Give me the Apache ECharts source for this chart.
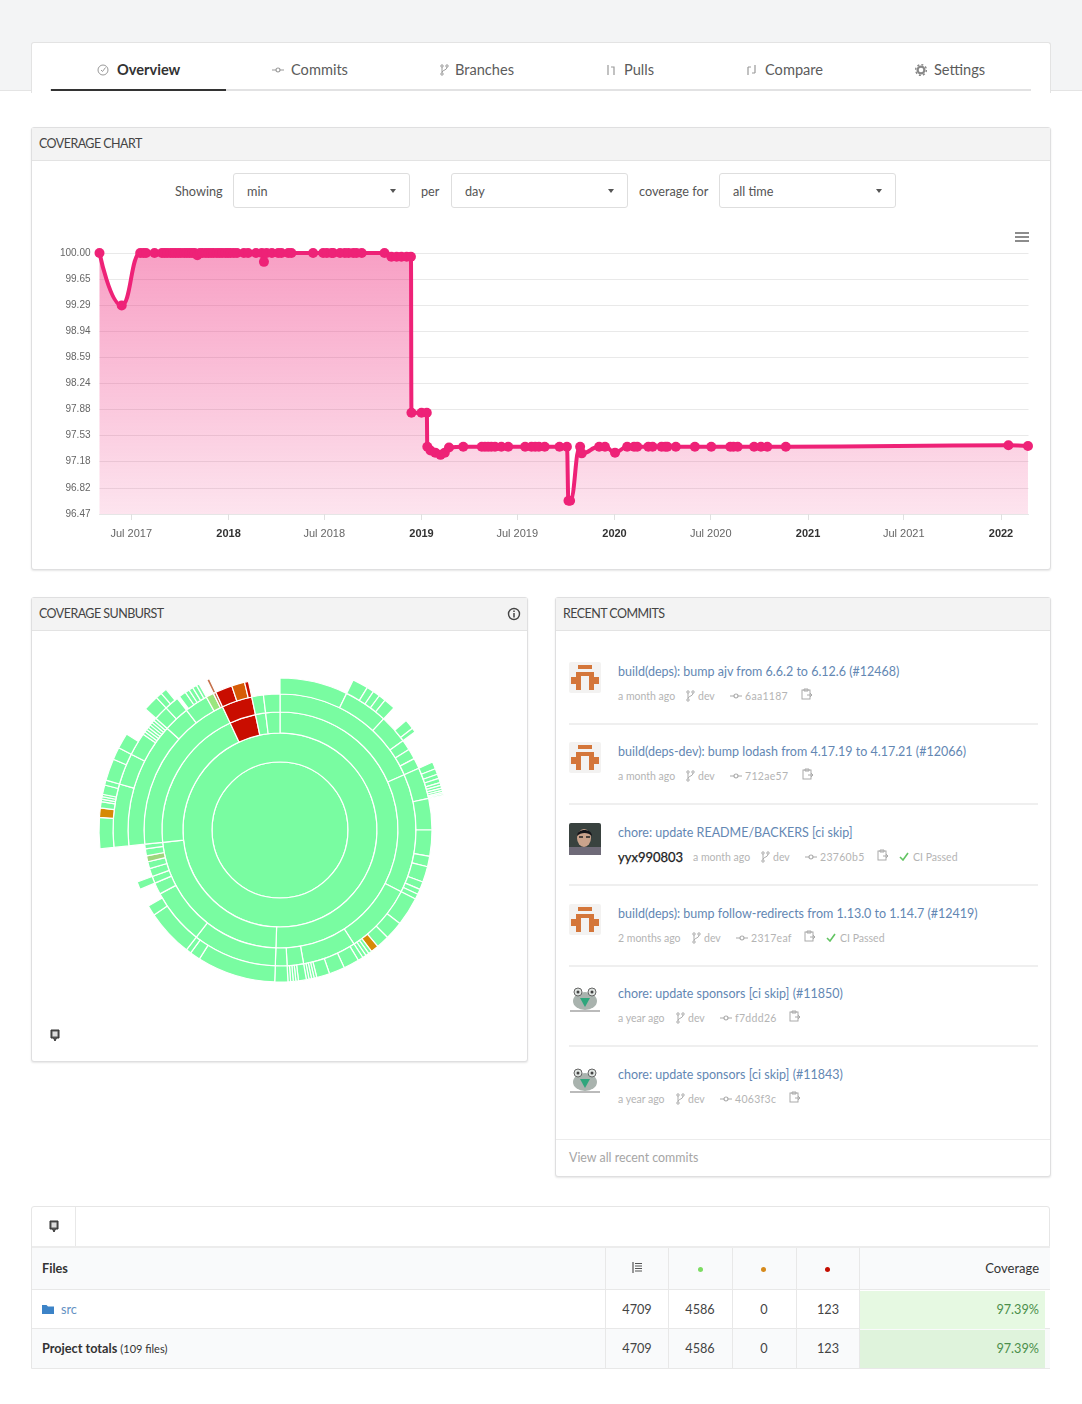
<!DOCTYPE html>
<html>
<head>
<meta charset="utf-8">
<title>Coverage overview</title>
<script src="https://cdn.jsdelivr.net/npm/echarts@6/dist/echarts.min.js"></script>
<style>
  html, body { margin: 0; padding: 0; background: #fff; }
  #page { position: relative; width: 1082px; height: 1404px; overflow: hidden; font-family: Lato, sans-serif; color: #444; }
  #page div { position: absolute; white-space: nowrap; }
  .top { left: 0; top: 0; width: 1082px; height: 91px; background: #f3f4f5; border-bottom: 1px solid #e4e4e4; box-sizing: border-box; }
  .tabs { left: 31px; top: 42px; width: 1018px; height: 50px; background: #fff; border: 1px solid #e3e3e3; border-bottom: 0; border-radius: 3px 3px 0 0; }
  .tabline { left: 50px; top: 89px; width: 981px; height: 2px; background: #e2e2e3; }
  .tabactive { left: 51px; top: 89px; width: 175px; height: 2px; background: #333; }
  .tab { top: 61px; font-size: 14.6px; line-height: 18px; color: #5c5c5c; }
  .card { background: #fff; border: 1px solid #dfdfe0; border-radius: 3px; box-shadow: 0 1px 2px rgba(0,0,0,.1); box-sizing: border-box; }
  .head { background: #f3f3f3; border-bottom: 1px solid #e3e3e3; box-sizing: border-box; height: 33px; font-size: 12.5px; line-height: 32px; padding-left: 7px; color: #444; letter-spacing: -.55px; }
  .lbl { top: 183px; font-size: 12.7px; line-height: 16px; color: #555; }
  .sel { top: 173px; width: 177px; height: 35px; background: #fff; border: 1px solid #dedede; border-radius: 3px; box-sizing: border-box; font-size: 12.7px; line-height: 34px; padding-left: 13px; color: #555; }
  .caret { top: 189px; width: 0; height: 0; border-left: 3.5px solid transparent; border-right: 3.5px solid transparent; border-top: 4px solid #555; }
  .burger { left: 1015px; width: 14px; height: 2px; background: #8c8c8c; }
  .title { font-size: 12.5px; line-height: 16px; color: #6387b3; }
  .meta { font-size: 10.5px; line-height: 14px; color: #b4b4b4; }
  .author { font-size: 13px; line-height: 16px; color: #222; -webkit-text-stroke: .25px #222; }
  .rule { left: 569px; width: 469px; height: 2px; background: #efefef; }
  .cell { font-size: 12.7px; line-height: 16px; color: #444; }
  .row { left: 32px; width: 1018px; box-sizing: border-box; border-bottom: 1px solid #e8e8e8; }
  .vline { width: 1px; top: 1248px; height: 120px; background: #e8e8e8; }
  .dot { width: 5px; height: 5px; border-radius: 50%; top: 1267px; }
  #trend { left: 32px; top: 210px; width: 1018px; height: 358px; }
  #burst { left: 32px; top: 632px; width: 495px; height: 429px; }
</style>
</head>
<body>
<div id="page"></div>
<script>
// coverage history
const coverageDates = [
  '2017-05-02', '2017-06-13', '2017-07-18', '2017-07-24', '2017-07-29', '2017-08-14', '2017-08-28', '2017-09-02',
  '2017-09-07', '2017-09-13', '2017-09-18', '2017-09-23', '2017-09-28', '2017-10-03', '2017-10-09', '2017-10-14',
  '2017-10-19', '2017-10-24', '2017-10-29', '2017-11-03', '2017-11-08', '2017-11-13', '2017-11-19', '2017-11-24',
  '2017-11-29', '2017-12-04', '2017-12-10', '2017-12-15', '2017-12-20', '2017-12-26', '2017-12-31', '2018-01-05',
  '2018-01-11', '2018-01-17', '2018-01-30', '2018-02-07', '2018-02-22', '2018-03-05', '2018-03-09', '2018-03-14',
  '2018-03-24', '2018-04-05', '2018-04-11', '2018-04-24', '2018-04-30', '2018-06-10', '2018-06-29', '2018-07-06',
  '2018-07-15', '2018-07-18', '2018-07-31', '2018-08-09', '2018-08-16', '2018-08-25', '2018-08-31', '2018-09-10',
  '2018-10-23', '2018-11-05', '2018-11-15', '2018-11-24', '2018-12-04', '2018-12-12', '2018-12-13', '2019-01-01',
  '2019-01-11', '2019-01-12', '2019-01-18', '2019-01-27', '2019-02-06', '2019-02-14', '2019-02-22', '2019-03-21',
  '2019-04-25', '2019-05-01', '2019-05-07', '2019-05-13', '2019-05-20', '2019-06-01', '2019-06-14', '2019-07-16',
  '2019-07-28', '2019-08-04', '2019-08-11', '2019-08-22', '2019-09-19', '2019-10-03', '2019-10-06', '2019-10-09',
  '2019-10-28', '2019-10-31', '2019-12-03', '2019-12-14', '2020-01-02', '2020-01-25', '2020-02-07', '2020-02-13',
  '2020-03-05', '2020-03-13', '2020-03-30', '2020-04-06', '2020-04-10', '2020-04-26', '2020-06-01', '2020-07-02',
  '2020-08-07', '2020-08-13', '2020-08-21', '2020-09-21', '2020-10-04', '2020-10-16', '2020-11-20', '2022-01-15',
  '2022-02-21'
];
const coverageValues = [
  100, 99.29, 100, 100, 100, 100, 100, 100,
  100, 100, 100, 100, 100, 100, 100, 100,
  100, 100, 100, 99.97, 100, 100, 100, 100,
  100, 100, 100, 100, 100, 100, 100, 100,
  100, 100, 100, 100, 100, 100, 99.88, 100,
  100, 100, 100, 100, 100, 100, 100, 100,
  100, 100, 100, 100, 100, 100, 100, 100,
  100, 99.95, 99.95, 99.95, 99.95, 99.95, 97.84, 97.84,
  97.84, 97.38, 97.33, 97.3, 97.27, 97.3, 97.37, 97.38,
  97.38, 97.38, 97.38, 97.38, 97.38, 97.38, 97.38, 97.38,
  97.38, 97.38, 97.38, 97.38, 97.38, 97.38, 96.65, 96.65,
  97.38, 97.29, 97.38, 97.38, 97.3, 97.38, 97.38, 97.38,
  97.38, 97.38, 97.38, 97.38, 97.38, 97.38, 97.38, 97.38,
  97.38, 97.38, 97.38, 97.38, 97.38, 97.38, 97.38, 97.4,
  97.39
];
const yTicks = [96.47, 96.82, 97.18, 97.53, 97.88, 98.24, 98.59, 98.94, 99.29, 99.65, 100];
const xTickDates = ['2017-07-01', '2018-01-01', '2018-07-01', '2019-01-01', '2019-07-01', '2020-01-01', '2020-07-01', '2021-01-01', '2021-07-01', '2022-01-01'];
const xTickLabels = ['Jul 2017', '2018', 'Jul 2018', '2019', 'Jul 2019', '2020', 'Jul 2020', '2021', 'Jul 2021', '2022'];

// sunburst rings, inside out, spans in degrees clockwise from 12 o'clock
// a plain number is a fully covered slice, a pair names any other status
const ringRadii = [68, 97, 118, 136, 152, 167, 181];
const ring1 = [360];
const ring2 = [360];
const ring3 = [182, 82, 71, ['red', 13], 5, 7];
const ring4 = [66, 51, 30, 23, 7, 5, 36, 24, 5, 3, 3.5, 3, ['olive', 2.5], 3, 2, 71, ['red', 13], 5, 7];
const ring5 = [
  26, 17, 11, 4, 4, 4,
  12, 12, 10, 4, 6, 3, 2, 2,
  11, 7, 5, ['amber', 3], 1.3, 1.3, 1.4,
  2, 6, 6, 5, 1, 1, 1, 1,
  3, 1, 1, 1, 1, 5,
  30, 4, 2,
  18, 4, ['gap', 7], 3, ['gap', 14],
  48, 10, 9, ['pale', 3], ['rust', 1],
  ['red', 6.5], ['orange', 5], ['red', 1.5]
];
const ring6 = [
  ['gap', 26], 5.5, 2.5, 2.5, 2.5, 4, ['gap', 6], 3.5, 1.5, ['gap', 12],
  2.5, 2, 1.5, 1.5, 1, 1, .8, .7, .5, .5, ['gap', 186],
  22, 11, 8, 1, 1, 1, 1, 1, 1, 1,
  5, 5, ['gap', 1], 2.5, 1.5, 1.5, 1.5, 1, ['gap', 3], ['rust', 1]
];
const ring7 = [['gap', 264], 10, ['amber', 3], 2, .8, .8, .8, 3, 1.6, 7, 4, 5, ['gap', 10], 5, 2, 2];
const statusColors = { hit: '#79fca1', red: '#c90d00', orange: '#d65c06', amber: '#d68a06', olive: '#9ed67c', pale: '#9be67f', rust: '#c4704a' };

// table and commit list
const tableHeads = ['Files', 'Coverage'];
const tableRows = [['src', 4709, 4586, 0, 123, '97.39%'], ['Project totals', 4709, 4586, 0, 123, '97.39%']];
const commitTitles = [
  'build(deps): bump ajv from 6.6.2 to 6.12.6 (#12468)',
  'build(deps-dev): bump lodash from 4.17.19 to 4.17.21 (#12066)',
  'chore: update README/BACKERS [ci skip]',
  'build(deps): bump follow-redirects from 1.13.0 to 1.14.7 (#12419)',
  'chore: update sponsors [ci skip] (#11850)',
  'chore: update sponsors [ci skip] (#11843)'
];
const commitAges = ['a month ago', 'a month ago', 'a month ago', '2 months ago', 'a year ago', 'a year ago'];
const commitHashes = ['6aa1187', '712ae57', '23760b5', '2317eaf', 'f7ddd26', '4063f3c'];
const commitAvatars = ['bot', 'bot', 'person', 'bot', 'frog', 'frog'];
const commitCi = [false, false, true, true, false, false];

const page = document.getElementById('page');
let html = '';
function box(cls, style, inner) {
  html += '<div class="' + cls + '" style="' + style + '">' + (inner === undefined ? '' : inner) + '</div>';
}
function svg(x, y, w, h, body) {
  html += '<svg style="position:absolute;left:' + x + 'px;top:' + y + 'px" width="' + w + '" height="' + h + '" viewBox="0 0 ' + w + ' ' + h + '">' + body + '</svg>';
}
function branchIcon(x, y, c) {
  svg(x, y, 9, 12, '<g fill="none" stroke="' + c + '" stroke-width="1"><circle cx="2" cy="2" r="1.2"/><circle cx="7" cy="2" r="1.2"/><circle cx="2" cy="10" r="1.2"/><path d="M2 3.2V8.8M7 3.2C7 6 3 6 2 8"/></g>');
}
function commitIcon(x, y, c) {
  svg(x, y, 12, 8, '<g fill="none" stroke="' + c + '" stroke-width="1.2"><circle cx="6" cy="4" r="2"/><path d="M0 4H4M8 4H12"/></g>');
}
function clipIcon(x, y) {
  svg(x, y, 12, 12, '<g fill="none" stroke="#aaa" stroke-width="1"><rect x="1" y="2" width="8" height="9"/><path d="M3 1H7V3H3ZM6 7H11M9 5L11 7L9 9"/></g>');
}
function deviceIcon(x, y) {
  svg(x, y, 10, 13, '<path d="M1 1H9V9H6.5L5 12L3.5 9H1Z" fill="#555" stroke="#333"/><rect x="2.5" y="2.5" width="5" height="5" fill="#ddd"/>');
}
function avatar(x, y, kind) {
  let body = '';
  if (kind === 'bot') {
    body = '<rect width="32" height="31" rx="2" fill="#f3f2f1"/><g fill="#d4763a"><rect x="9" y="3" width="14" height="4"/><path d="M2 15H7V10H25V15H30V22H25V28H20V14H12V28H7V22H2Z"/></g>';
  } else if (kind === 'person') {
    body = '<rect width="32" height="32" rx="2" fill="#39423f"/><rect y="24" width="32" height="8" fill="#6f6a78"/><ellipse cx="15" cy="15" rx="7" ry="9" fill="#caa38c"/><path d="M8 13C8 5 23 5 23 13C19 9 12 9 8 13Z" fill="#15151a"/><path d="M10 14H14M17 14H21" stroke="#222" stroke-width="1.5"/>';
  } else {
    body = '<rect width="32" height="32" fill="#fff"/><ellipse cx="16" cy="17" rx="12" ry="9" fill="#a9b3ae"/><circle cx="9" cy="8" r="4" fill="#dfe4e1" stroke="#666"/><circle cx="23" cy="8" r="4" fill="#dfe4e1" stroke="#666"/><circle cx="9" cy="8" r="1.5" fill="#444"/><circle cx="23" cy="8" r="1.5" fill="#444"/><path d="M11 14H21L16 23Z" fill="#2ea67c"/><path d="M1 27H31" stroke="#bbb" stroke-width="2"/>';
  }
  svg(x, y, 32, 32, body);
}

// page chrome
box('top', '');
box('tabs', '');
box('tabline', '');
box('tabactive', '');
const tabNames = ['Overview', 'Commits', 'Branches', 'Pulls', 'Compare', 'Settings'];
const tabLeft = [117, 291, 455, 624, 765, 934];
tabNames.forEach((name, i) => {
  box('tab', 'left:' + tabLeft[i] + 'px;' + (i === 0 ? 'font-weight:700;color:#333;' : ''), name);
});
svg(97, 64, 12, 12, '<g fill="none" stroke="#999" stroke-width="1"><circle cx="6" cy="6" r="5"/><path d="M4 6L5.5 7.5L8.5 3.5"/></g>');
commitIcon(272, 66, '#999');
branchIcon(440, 64, '#999');
svg(606, 64, 11, 12, '<g fill="none" stroke="#999" stroke-width="1.2"><path d="M2 1V11M8 11V3H5"/></g>');
svg(746, 64, 12, 12, '<g fill="none" stroke="#999" stroke-width="1.2"><path d="M2 3V11M9 1V9M2 3H5M9 9H6"/></g>');
svg(915, 64, 12, 12, '<circle cx="6" cy="6" r="3.4" fill="none" stroke="#888" stroke-width="2.2"/><circle cx="6" cy="6" r="5.4" fill="none" stroke="#888" stroke-width="1.4" stroke-dasharray="2 2.2"/>');

// coverage chart card
box('card', 'left:31px;top:127px;width:1020px;height:443px;');
box('head', 'left:32px;top:128px;width:1018px;', 'COVERAGE CHART');
box('lbl', 'left:175px;', 'Showing');
box('sel', 'left:233px;', 'min');
box('caret', 'left:390px;');
box('lbl', 'left:421px;', 'per');
box('sel', 'left:451px;', 'day');
box('caret', 'left:608px;');
box('lbl', 'left:639px;', 'coverage for');
box('sel', 'left:719px;', 'all time');
box('caret', 'left:876px;');

// sunburst card
box('card', 'left:31px;top:597px;width:497px;height:465px;');
box('head', 'left:32px;top:598px;width:495px;', 'COVERAGE SUNBURST');
svg(507, 607, 14, 14, '<circle cx="7" cy="7" r="5.5" fill="none" stroke="#444" stroke-width="1.4"/><path d="M7 6V10.5M7 3.5V5" stroke="#444" stroke-width="1.5"/>');

// recent commits card
box('card', 'left:555px;top:597px;width:496px;height:580px;');
box('head', 'left:556px;top:598px;width:494px;', 'RECENT COMMITS');
const rowTops = [671, 751, 832, 913, 993, 1074];
const authors = { 2: 'yyx990803' };
const clipLeft = [801, 802, 877, 804, 789, 789];
const ciLeft = { 2: 899, 3: 826 };
rowTops.forEach((y, i) => {
  avatar(569, y - 9, commitAvatars[i]);
  box('title', 'left:618px;top:' + (y - 7) + 'px;', commitTitles[i]);
  let x = 618;
  const my = y + 18;
  if (authors[i]) {
    box('author', 'left:618px;top:' + (y + 17) + 'px;', authors[i]);
    x = 693;
  }
  const ageWidth = { 'a month ago': 58, '2 months ago': 64, 'a year ago': 48 }[commitAges[i]];
  box('meta', 'left:' + x + 'px;top:' + my + 'px;', commitAges[i]);
  x += ageWidth + 10;
  branchIcon(x, my + 1, '#aaa');
  box('meta', 'left:' + (x + 12) + 'px;top:' + my + 'px;', 'dev');
  x += 49;
  commitIcon(x - 5, my + 3, '#aaa');
  box('meta', 'left:' + (x + 10) + 'px;top:' + my + 'px;letter-spacing:.3px;', commitHashes[i]);
  clipIcon(clipLeft[i], my - 1);
  if (commitCi[i]) {
    svg(ciLeft[i], my + 2, 10, 9, '<path d="M1 5L4 8L9 1" fill="none" stroke="#62c462" stroke-width="1.6"/>');
    box('meta', 'left:' + (ciLeft[i] + 14) + 'px;top:' + my + 'px;', 'CI Passed');
  }
  if (i < 5) box('rule', 'top:' + (y + 52) + 'px;');
});
box('', 'left:556px;top:1139px;width:494px;height:1px;background:#ececec;');
box('cell', 'left:569px;top:1150px;color:#a5a5a5;font-size:12.4px;', 'View all recent commits');

// file table
box('', 'left:31px;top:1206px;width:1019px;height:163px;border:1px solid #e6e6e6;border-radius:3px 3px 0 0;box-sizing:border-box;');
box('', 'left:75px;top:1207px;width:1px;height:40px;background:#e8e8e8;');
box('row', 'top:1246px;height:2px;background:#ececec;border:0;');
box('row', 'top:1248px;height:42px;background:#f9fafb;');
box('row', 'top:1290px;height:39px;background:#fff;');
box('row', 'top:1329px;height:40px;background:#f9fafb;');
box('', 'left:859px;top:1291px;width:186px;height:38px;background:#e6f9e2;');
box('', 'left:859px;top:1330px;width:186px;height:38px;background:#dff3dc;');
[605, 668, 732, 796, 859].forEach(x => box('vline', 'left:' + x + 'px;'));
box('cell', 'left:42px;top:1260px;font-weight:700;color:#333;', tableHeads[0]);
box('cell', 'right:43px;top:1260px;color:#333;font-size:13px;', tableHeads[1]);
svg(632, 1262, 10, 11, '<path d="M1 0V11M3 1.5H10M3 4H10M3 6.5H10M3 9H10" stroke="#555" stroke-width="1.2"/>');
box('dot', 'left:698px;background:#7cdc62;');
box('dot', 'left:761px;background:#d68a1c;');
box('dot', 'left:825px;background:#c40d00;');
svg(42, 1304, 12, 10, '<path d="M0 1H4.5L6 2.5H12V10H0Z" fill="#3c83c7"/>');
box('cell', 'left:61px;top:1301px;color:#6491c3;', tableRows[0][0]);
box('cell', 'left:42px;top:1340px;font-weight:700;color:#333;', tableRows[1][0] + ' <span style="font-weight:400;font-size:11px;">(109 files)</span>');
const colCentres = [637, 700, 764, 828];
tableRows.forEach((row, r) => {
  const top = r === 0 ? 1301 : 1340;
  colCentres.forEach((cx, c) => {
    box('cell', 'left:' + (cx - 30) + 'px;width:60px;text-align:center;top:' + top + 'px;', row[c + 1]);
  });
  box('cell', 'right:43px;top:' + top + 'px;color:#4b8f4b;', row[5]);
});

// charts sit above the card backgrounds
html += '<div id="trend"></div><div id="burst"></div>';
[232, 236, 240].forEach(y => box('burger', 'top:' + y + 'px;'));
deviceIcon(50, 1029);
deviceIcon(49, 1220);
page.innerHTML = html;

// line chart
const toMs = d => +new Date(d + 'T00:00:00Z');
const xTickValues = xTickDates.map(toMs);
const trendChart = echarts.init(document.getElementById('trend'), null, { renderer: 'canvas' });
trendChart.setOption({
  animation: false,
  grid: { left: 67.5, right: 21.5, top: 43, bottom: 54 },
  xAxis: {
    type: 'value',
    min: toMs('2017-05-02'),
    max: toMs('2022-02-22'),
    axisLine: { lineStyle: { color: '#e6e6e6' } },
    axisTick: { customValues: xTickValues, length: 6, lineStyle: { color: '#e0e0e0' } },
    splitLine: { show: false },
    axisLabel: {
      customValues: xTickValues,
      margin: 14,
      hideOverlap: false,
      formatter: function (value) {
        const label = xTickLabels[xTickValues.indexOf(value)];
        return label.indexOf('Jul') === 0 ? '{m|' + label + '}' : '{y|' + label + '}';
      },
      rich: {
        m: { fontFamily: 'Liberation Sans', fontSize: 11, color: '#666' },
        y: { fontFamily: 'Liberation Sans', fontSize: 11, fontWeight: 'bold', color: '#333' }
      }
    }
  },
  yAxis: {
    type: 'value',
    min: yTicks[0],
    max: yTicks[yTicks.length - 1],
    axisLine: { show: false },
    axisTick: { show: false, customValues: yTicks },
    splitLine: { show: true, lineStyle: { color: 'rgba(120,120,120,0.16)' } },
    axisLabel: {
      customValues: yTicks,
      margin: 9,
      fontFamily: 'Liberation Sans',
      fontSize: 10,
      color: '#666',
      padding: [0, 0, 3, 0],
      formatter: v => v.toFixed(2)
    }
  },
  series: [{
    type: 'line',
    smooth: 0.5,
    smoothMonotone: 'x',
    clip: false,
    symbol: 'circle',
    symbolSize: 10,
    showAllSymbol: true,
    lineStyle: { width: 4, color: '#ee2277' },
    itemStyle: { color: '#ee2277' },
    areaStyle: {
      opacity: 1,
      color: {
        type: 'linear', x: 0, y: 0, x2: 0, y2: 1,
        colorStops: [{ offset: 0, color: 'rgba(238,34,119,0.43)' }, { offset: 1, color: 'rgba(238,34,119,0.12)' }]
      }
    },
    emphasis: { disabled: true },
    data: coverageDates.map((d, i) => [toMs(d), coverageValues[i]])
  }]
});

// build the sunburst tree from the ring spans
function ringSegments(ring) {
  let angle = 0;
  const segs = [];
  ring.forEach(item => {
    const status = typeof item === 'number' ? 'hit' : item[0];
    const span = typeof item === 'number' ? item : item[1];
    if (status !== 'gap') segs.push({ start: angle, end: angle + span, status: status, span: span });
    angle += span;
  });
  return segs;
}
function makeNode(value, status) {
  if (status === 'gap') {
    return { value: value, itemStyle: { color: 'rgba(0,0,0,0)', borderWidth: 0 } };
  }
  return { value: value, itemStyle: { color: statusColors[status] } };
}
function buildTree(rings) {
  let parents = null;
  const top = [];
  rings.forEach(ring => {
    const segs = ringSegments(ring);
    segs.forEach(seg => {
      seg.node = makeNode(seg.span, seg.status);
      seg.cursor = seg.start;
      if (!parents) {
        top.push(seg.node);
        return;
      }
      const mid = (seg.start + seg.end) / 2;
      const parent = parents.find(p => mid >= p.start && mid <= p.end);
      if (!parent) return;
      parent.node.children = parent.node.children || [];
      if (seg.start - parent.cursor > 0.01) {
        parent.node.children.push(makeNode(seg.start - parent.cursor, 'gap'));
      }
      parent.node.children.push(seg.node);
      parent.cursor = seg.end;
    });
    parents = segs;
  });
  return top;
}

const levels = [{}];
ringRadii.forEach((r, i) => levels.push({ radius: [i === 0 ? 0 : ringRadii[i - 1], r] }));
const burstChart = echarts.init(document.getElementById('burst'), null, { renderer: 'canvas' });
burstChart.setOption({
  animation: false,
  series: [{
    type: 'sunburst',
    center: [248, 198],
    startAngle: 90,
    sort: null,
    nodeClick: false,
    levels: levels,
    label: { show: false },
    itemStyle: { borderColor: '#fff', borderWidth: 1.2 },
    emphasis: { disabled: true },
    data: buildTree([ring1, ring2, ring3, ring4, ring5, ring6, ring7])
  }]
});
</script>
</body>
</html>
